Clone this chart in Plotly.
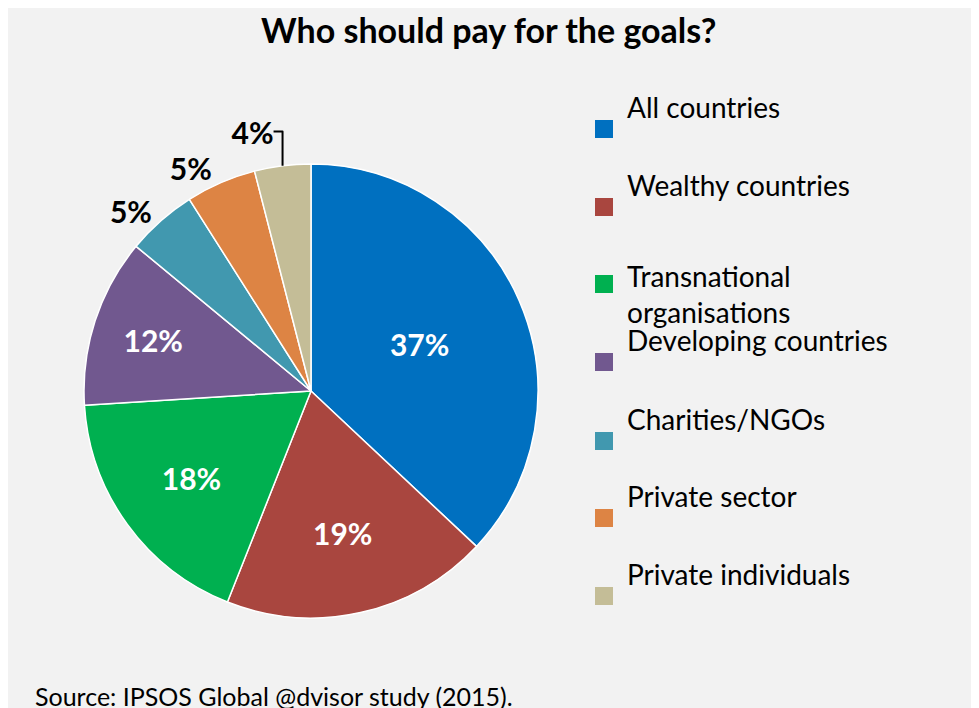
import plotly.graph_objects as go

labels = ["All countries", "Wealthy countries", "Transnational<br>organisations",
          "Developing countries", "Charities/NGOs", "Private sector", "Private individuals"]
values = [37, 19, 18, 12, 5, 5, 4]
colors = ["#0070C0", "#A9463F", "#00B050", "#71588F", "#4198AF", "#DD8444", "#C4BD97"]
positions = ["inside", "inside", "inside", "inside", "outside", "outside", "outside"]
text_colors = ["white", "white", "white", "white", "black", "black", "black"]

W, H = 979, 708
fig = go.Figure(go.Pie(
    labels=labels, values=values, sort=False, direction="clockwise", rotation=0,
    marker=dict(colors=colors, line=dict(color="white", width=1.5)),
    texttemplate="<b>%{percent:.0%}</b>", textposition=positions,
    textfont=dict(family="Lato", size=30, color=text_colors),
    insidetextorientation="horizontal",
    domain=dict(x=[75/W, 531/W], y=[1-610/H, 1-156/H]),
    showlegend=False, hoverinfo="label+percent"))

ann = [dict(text="<b>Who should pay for the goals?</b>", x=480/W, y=1-22/H, xref="paper", yref="paper",
            yanchor="middle", showarrow=False, font=dict(family="Lato", size=34, color="black")),
       dict(text="Source: IPSOS Global @dvisor study (2015).", x=25/W, y=1-688/H, xref="paper", yref="paper",
            xanchor="left", yanchor="middle", showarrow=False, font=dict(family="Lato", size=25, color="black"))]
ys = [121, 199, 296, 354, 433, 510, 588]
shapes = []
for i, (lab, c) in enumerate(zip(labels, colors)):
    yc = ys[i] if i != 2 else 276
    ty = ys[i] - 22 if i != 2 else ys[i] - 10
    ann.append(dict(text=lab, x=617/W, y=1-ty/H, xref="paper", yref="paper", xanchor="left",
                    yanchor="middle", align="left", showarrow=False,
                    font=dict(family="Lato", size=28, color="black")))
    shapes.append(dict(type="rect", xref="paper", yref="paper", x0=587/W, x1=605/W,
                       y0=1-(yc+9)/H, y1=1-(yc-9)/H, fillcolor=c, line=dict(width=0)))

fig.update_layout(width=W, height=H, margin=dict(l=0, r=0, t=0, b=0),
                  paper_bgcolor="#F2F2F2", plot_bgcolor="#F2F2F2",
                  annotations=ann, shapes=shapes)
fig.write_html("out.html")
